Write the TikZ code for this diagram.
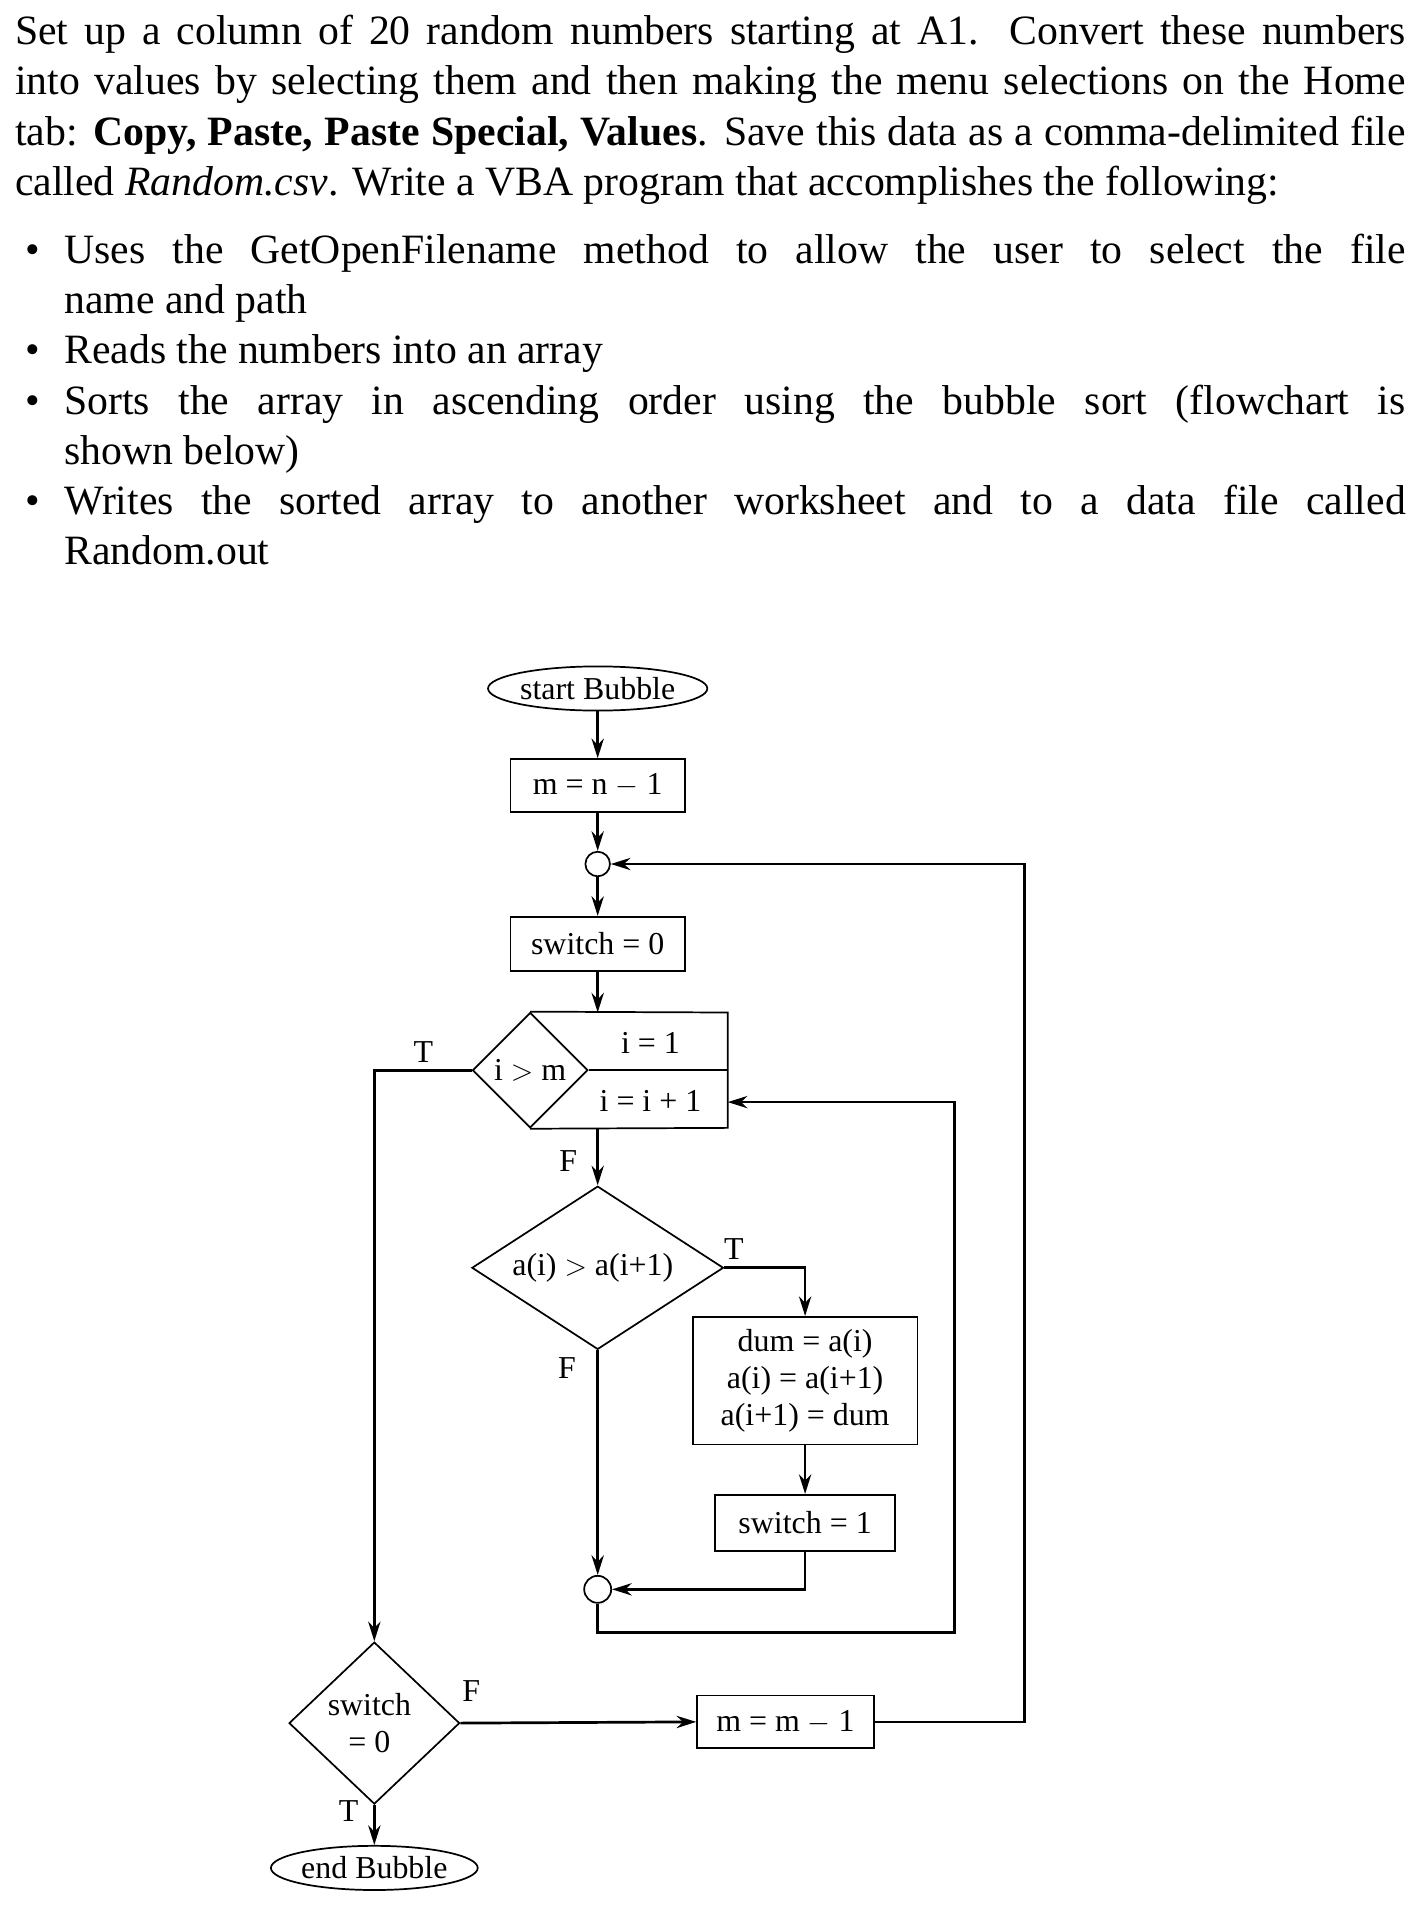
\documentclass[tikz,border=0pt]{standalone}
\usepackage{fontspec}
\setmainfont{Liberation Serif}
\usetikzlibrary{shapes.geometric,arrows.meta}
\begin{document}
\begin{tikzpicture}[x=0.5pt,y=-0.5pt,
 box/.style={draw,line width=0.7pt,inner sep=0pt,font=\fontsize{13}{15}\selectfont},
 ell/.style={draw,ellipse,line width=0.7pt,inner sep=0pt,font=\fontsize{13}{15}\selectfont},
 dia/.style={draw,diamond,line width=0.7pt,inner sep=0pt},
 circ/.style={draw,circle,line width=0.7pt,inner sep=0pt},
 lab/.style={font=\fontsize{13}{15}\selectfont,inner sep=0pt},
 ar/.style={line width=1.1pt,-{Stealth[length=8pt,width=5pt]}},
 ln/.style={line width=1.1pt}]
\useasboundingbox (0,0) rectangle (1160,1562);
\node[anchor=north west,inner sep=0pt,text width=566.5pt,align=justify,font=\fontsize{17}{20.5}\selectfont] (txt) at (12,12) {%
Set up a column of 20 random numbers starting at A1. Convert these numbers\linebreak
into values by selecting them and then making the menu selections on the Home\linebreak
tab: \textbf{Copy, Paste, Paste Special, Values}. Save this data as a comma-delimited file\linebreak
called \textit{Random.csv}. Write a VBA program that accomplishes the following:\par
\vspace{7pt}
\hangindent=20pt\hangafter=0\noindent\llap{\textbullet\hspace{10pt}}Uses the GetOpenFilename method to allow the user to select the file\linebreak name and path\par
\hangindent=20pt\hangafter=0\noindent\llap{\textbullet\hspace{10pt}}Reads the numbers into an array\par
\hangindent=20pt\hangafter=0\noindent\llap{\textbullet\hspace{10pt}}Sorts the array in ascending order using the bubble sort (flowchart is\linebreak shown below)\par
\hangindent=20pt\hangafter=0\noindent\llap{\textbullet\hspace{10pt}}Writes the sorted array to another worksheet and to a data file called\linebreak Random.out\par};
% flowchart
\node[ell,minimum width=85pt,minimum height=18pt] (start) at (487,561) {start Bubble};
\node[box,minimum width=71pt,minimum height=21.5pt] (m1) at (487,640) {m = n $-$ 1};
\node[circ,minimum size=10pt] (c1) at (487,704) {};
\node[box,minimum width=71pt,minimum height=22pt] (sw0) at (487,769) {switch = 0};
\node[dia,minimum width=47pt,minimum height=47pt] (d1) at (432,872) {};
\node[lab] (d1t) at (432,872) {i $>$ m};
\draw[line width=0.7pt] (d1.north) -- (593,825) -- (593,919) -- (d1.south);
\draw[line width=0.7pt] (d1.east) -- (593,872);
\coordinate (lr) at (593,898);
\node[lab] (i1) at (530,850) {i = 1};
\node[lab] (i2) at (530,897) {i = i + 1};
\node[dia,minimum width=102.5pt,minimum height=66.5pt] (d2) at (487,1033) {};
\node[lab] (d2t) at (483,1033) {a(i) $>$ a(i+1)};
\node[box,minimum width=91.5pt,minimum height=52pt,align=center] (dum) at (656,1125) {dum = a(i)\\a(i) = a(i+1)\\a(i+1) = dum};
\node[box,minimum width=73.5pt,minimum height=23pt] (sw1) at (656,1241) {switch = 1};
\node[circ,minimum size=11pt] (c2) at (487,1295) {};
\node[dia,minimum width=69.5pt,minimum height=66pt] (d3) at (305,1404) {};
\node[lab,align=center] (d3t) at (301,1404) {switch\\= 0};
\node[box,minimum width=72pt,minimum height=21.5pt] (mm) at (640,1403) {m = m $-$ 1};
\node[ell,minimum width=83pt,minimum height=18pt] (end) at (305,1522) {end Bubble};
% connectors
\draw[ar] (start) -- (m1);
\draw[ar] (m1) -- (c1);
\draw[ar] (c1) -- (sw0);
\draw[ar] (sw0.south) -- (487,825);
\draw[ar] (487,919) -- (d2.north);
\node[lab] (F1) at (463,946) {F};
\draw[ar] (d2.east) -- (dum.north |- d2.east) -- (dum.north);
\node[lab] (T1) at (598,1018) {T};
\draw[ar] (dum) -- (sw1);
\draw[ar] (sw1.south) -- (656,1295) -- (c2.east);
\draw[ar] (d2.south) -- (c2.north);
\node[lab] (F2) at (462,1115) {F};
\draw[ar] (c2.south) -- (487,1330) -- (778,1330) -- (778,898) -- (lr);
\draw[ar] (d1.west) -- (305,872) -- (d3.north);
\node[lab] (T2) at (345,857) {T};
\draw[ar] (d3.east) -- (mm.west);
\node[lab] (F3) at (384,1378) {F};
\draw[ar] (mm.east) -- (835,1403) -- (835,704) -- (c1.east);
\draw[ar] (d3.south) -- (end.north);
\node[lab] (T3) at (284,1476) {T};
\end{tikzpicture}
\end{document}
